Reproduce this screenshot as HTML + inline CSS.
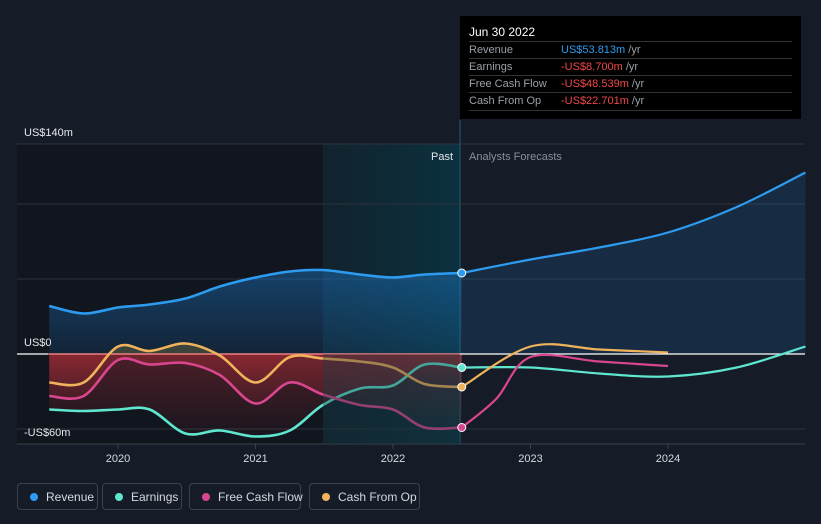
<!DOCTYPE html>
<html><head><meta charset="utf-8"><style>
body{margin:0;background:#161c27;font-family:"Liberation Sans",sans-serif;}
#wrap{position:relative;width:821px;height:524px;overflow:hidden;background:#161c27}
.lg{position:absolute;top:483px;height:27px;border:1px solid #3a4150;border-radius:4px;color:#d5d8de;font-size:12px;line-height:26px;padding:0 0 0 28px;box-sizing:border-box;white-space:nowrap}
.lg i{position:absolute;left:12px;top:9px;width:8px;height:8px;border-radius:50%}
#tip{position:absolute;left:460px;top:16px;width:341px;height:103px;background:#000;color:#fff;font-size:11px}
#tip .r{position:absolute;left:9px;width:323px;border-top:1px solid #333;height:17px;line-height:17px;color:#9aa0a8}
#tip .r span{position:absolute;left:92px}
</style></head><body>
<div id="wrap">
<svg id="svg" width="821" height="524" style="position:absolute;left:0;top:0">
<defs>
<linearGradient id="rev" x1="0" y1="0" x2="0" y2="1"><stop offset="0" stop-color="#1b78c8" stop-opacity="0.45"/><stop offset="1" stop-color="#1b78c8" stop-opacity="0.15"/></linearGradient>
<linearGradient id="neg" x1="0" y1="0" x2="0" y2="1"><stop offset="0" stop-color="#c0303a" stop-opacity="0.75"/><stop offset="1" stop-color="#c0303a" stop-opacity="0.1"/></linearGradient>
<linearGradient id="teal" x1="0" y1="0" x2="1" y2="0"><stop offset="0" stop-color="#0c2a35" stop-opacity="0.5"/><stop offset="1" stop-color="#0a3442" stop-opacity="0.9"/></linearGradient>
<clipPath id="below"><rect x="0" y="354" width="821" height="200"/></clipPath>
<clipPath id="above"><rect x="0" y="0" width="821" height="354"/></clipPath>
</defs>
</svg>
<div id="tip">
<div style="position:absolute;left:9px;top:9px;font-size:12px">Jun 30 2022</div>
<div class="r" style="top:25px">Revenue<span><b style="font-weight:normal;color:#2d9cf0">US$53.813m</b> /yr</span></div>
<div class="r" style="top:42px">Earnings<span><b style="font-weight:normal;color:#f0474a">-US$8.700m</b> /yr</span></div>
<div class="r" style="top:59px;height:17px">Free Cash Flow<span><b style="font-weight:normal;color:#f0474a">-US$48.539m</b> /yr</span></div>
<div class="r" style="top:76px">Cash From Op<span><b style="font-weight:normal;color:#f0474a">-US$22.701m</b> /yr</span></div>
<div class="r" style="top:94px;height:0"></div>
</div>
<div class="lg" style="left:17px;width:81px"><i style="background:#2d9cf0"></i>Revenue</div>
<div class="lg" style="left:102px;width:80px"><i style="background:#5ee6cf"></i>Earnings</div>
<div class="lg" style="left:189px;width:112px"><i style="background:#d9468f"></i>Free Cash Flow</div>
<div class="lg" style="left:309px;width:111px"><i style="background:#f0b35c"></i>Cash From Op</div>
</div>
<script>
const years=[2019.5,2019.75,2020,2020.23,2020.49,2020.74,2021,2021.25,2021.49,2021.76,2022,2022.23,2022.5];
const fyears=[2022.5,2023,2023.5,2024,2024.5,2025];
const revenue=[32,27,31,33,37,45,51,55,56,53,51,53,54];
const revenueF=[54,63,71,81,98,121];
const earnings=[-37,-38,-37,-37,-53,-51,-55,-51,-34,-23,-21,-7,-9];
const earningsF=[-9,-9,-13,-15,-9,5];
const fcf=[-28,-28,-4,-7,-6,-14,-33,-19,-27,-34,-37,-49,-49];
const fcfYears=[2022.5,2022.75,2023,2023.5,2024];
const fcfF=[-49,-30,-2,-5,-8];
const cfoYears=[2022.5,2023,2023.5,2024];
const cfo=[-19,-19,5,2,7,-1,-19,-2,-3,-5,-9,-20,-22];
const cfoF=[-22,5,3,1];
const yTicks=[140,0,-60];
const yTickLabels=["US$140m","US$0","-US$60m"];
const gridVals=[140,100,50,0,-50];
const xTicks=[2020,2021,2022,2023,2024];
const X=t=>118+(t-2020)*137.5, Y=v=>354-v*1.5;
const svg=document.getElementById('svg');
const NS='http://www.w3.org/2000/svg';
function mk(tag,attrs,name){const e=document.createElementNS(NS,tag);for(const k in attrs)e.setAttribute(k,attrs[k]);


svg.appendChild(e);return e;}
function path(xs,vs){const p=xs.map((t,i)=>[X(t),Y(vs[i])]);let d='M'+p[0][0]+','+p[0][1];
for(let i=0;i<p.length-1;i++){const p0=p[Math.max(0,i-1)],p1=p[i],p2=p[i+1],p3=p[Math.min(p.length-1,i+2)];
const c1=[p1[0]+(p2[0]-p0[0])/6,p1[1]+(p2[1]-p0[1])/6],c2=[p2[0]-(p3[0]-p1[0])/6,p2[1]-(p3[1]-p1[1])/6];
d+=`C${c1[0]},${c1[1]} ${c2[0]},${c2[1]} ${p2[0]},${p2[1]}`;}return d;}
mk('rect',{x:17,y:144,width:306,height:300,fill:'#11151d'},'past-shade');
mk('rect',{x:323,y:144,width:137,height:300,fill:'url(#teal)'},'recent-shade');
gridVals.forEach(v=>mk('line',{x1:17,x2:805,y1:Y(v),y2:Y(v),stroke:'#2c333f','stroke-width':1},'gridline'));
mk('line',{x1:17,x2:805,y1:444,y2:444,stroke:'#3a414d'},'x-axis');
mk('line',{x1:460,x2:460,y1:120,y2:444,stroke:'#1d4a5c','stroke-width':1.5},'past-divider');
const rp=path(years,revenue);
mk('path',{d:rp+`L${X(2022.5)},${Y(0)}L${X(2019.5)},${Y(0)}Z`,fill:'url(#rev)'},'revenue-area');
const rf=path(fyears,revenueF);
mk('path',{d:rf+`L${X(2025)},${Y(0)}L${X(2022.5)},${Y(0)}Z`,fill:'#1b78c8','fill-opacity':0.18},'revenue-forecast-area');
[earnings,fcf,cfo].forEach(s=>{const d=path(years,s)+`L${X(2022.5)},${Y(0)}L${X(2019.5)},${Y(0)}Z`;
mk('path',{d,fill:'url(#neg)','fill-opacity':0.45,'clip-path':'url(#below)'},'negative-area');
mk('path',{d,fill:'#8a7a40','fill-opacity':0.35,'clip-path':'url(#above)'},'positive-area');});
mk('line',{x1:17,x2:805,y1:354,y2:354,stroke:'#fff','stroke-width':1.2},'zero-line');
mk('line',{x1:48,x2:460,y1:354,y2:354,stroke:'#f07070','stroke-width':1.2},'zero-line-past');
const series=[[years,revenue,fyears,revenueF,'#2d9cf0','revenue'],[years,earnings,fyears,earningsF,'#5ee6cf','earnings'],[years,fcf,fcfYears,fcfF,'#d9468f','free-cash-flow'],[years,cfo,cfoYears,cfoF,'#f0b35c','cash-from-op']];
series.forEach(s=>{mk('path',{d:path(s[0],s[1]),fill:'none',stroke:s[4],'stroke-width':2.6},s[5]+'-line');
mk('path',{d:path(s[2],s[3]),fill:'none',stroke:s[4],'stroke-width':2.2},s[5]+'-forecast-line');});
mk('rect',{x:323,y:354,width:137,height:90,fill:'#16303a','fill-opacity':0.35},'recent-overlay');
series.forEach(s=>mk('circle',{cx:X(2022.5),cy:Y(s[1][s[1].length-1]),r:4,fill:s[4],stroke:'#fff','stroke-width':1},s[5]+'-marker'));
yTicks.forEach((v,i)=>{const t=mk('text',{x:24,y:Y(v)-8,fill:'#e6e8eb','font-size':11,'font-family':'Liberation Sans'},'y-tick-label');t.textContent=yTickLabels[i];});
xTicks.forEach(v=>{mk('line',{x1:X(v),x2:X(v),y1:444,y2:449,stroke:'#3a414d'},'x-tick');
const t=mk('text',{x:X(v),y:462,fill:'#d5d8de','font-size':11,'text-anchor':'middle','font-family':'Liberation Sans'},'x-tick-label');t.textContent=v;});
let t=mk('text',{x:453,y:160,fill:'#e6e8eb','font-size':11,'text-anchor':'end','font-family':'Liberation Sans'},'past-label');t.textContent='Past';
t=mk('text',{x:469,y:160,fill:'#8a9099','font-size':11,'font-family':'Liberation Sans'},'forecast-label');t.textContent='Analysts Forecasts';
</script>
</body></html>
